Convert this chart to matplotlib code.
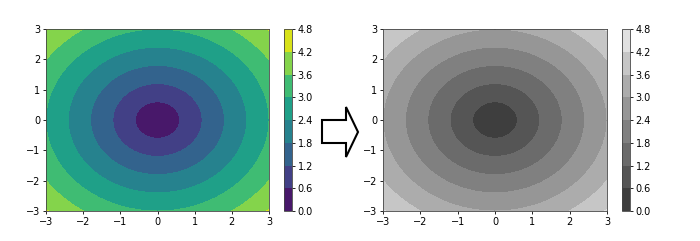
import numpy as np
import matplotlib.pyplot as plt
from matplotlib.patches import Polygon

# grid and contour levels
x = np.linspace(-3, 3, 241)
y = np.linspace(-3, 3, 241)
levels = [0.0, 0.6, 1.2, 1.8, 2.4, 3.0, 3.6, 4.2, 4.8]
ticks = [-3, -2, -1, 0, 1, 2, 3]

# grayscale version of the colours, one per band
grays = ["#3e3e3e", "#555555", "#6b6b6b", "#808080",
         "#969696", "#acacac", "#c6c6c6", "#e0e0e0"]

X, Y = np.meshgrid(x, y)
Z = np.hypot(X, Y)

# viridis sampled at band midpoints
mids = [(a + b) / 2 / levels[-1] for a, b in zip(levels[:-1], levels[1:])]
vir = [plt.cm.viridis(m) for m in mids]

plt.rcParams["font.size"] = 7
fig = plt.figure(figsize=(7, 2.41), dpi=100)

# left: viridis
ax1 = fig.add_axes([0.0657, 0.1245, 0.3186, 0.755])
cs1 = ax1.contourf(X, Y, Z, levels=levels, colors=vir)
ax1.set_xticks(ticks)
ax1.set_yticks(ticks)
cax1 = fig.add_axes([0.4057, 0.1245, 0.0114, 0.755])
fig.colorbar(cs1, cax=cax1, ticks=levels)

# right: grayscale
ax2 = fig.add_axes([0.5471, 0.1245, 0.32, 0.755])
cs2 = ax2.contourf(X, Y, Z, levels=levels, colors=grays)
ax2.set_xticks(ticks)
ax2.set_yticks(ticks)
cax2 = fig.add_axes([0.8886, 0.1245, 0.0114, 0.755])
fig.colorbar(cs2, cax=cax2, ticks=levels)

for ax in (ax1, ax2, cax1, cax2):
    ax.tick_params(length=2.5, width=0.6, pad=1.5)
    for s in ax.spines.values():
        s.set_linewidth(0.6)
        s.set_color("#444444")

# block arrow between the two plots (pixel coords -> figure fraction)
W, H = 700, 241
arrow_px = [(322, 120), (346, 120), (346, 107), (358, 132),
            (346, 157), (346, 143), (322, 143)]
arrow = Polygon([(px / W, 1 - py / H) for px, py in arrow_px],
                closed=True, facecolor="white", edgecolor="black",
                linewidth=1.5, transform=fig.transFigure)
fig.patches.append(arrow)

fig.savefig("out.png", dpi=100)
